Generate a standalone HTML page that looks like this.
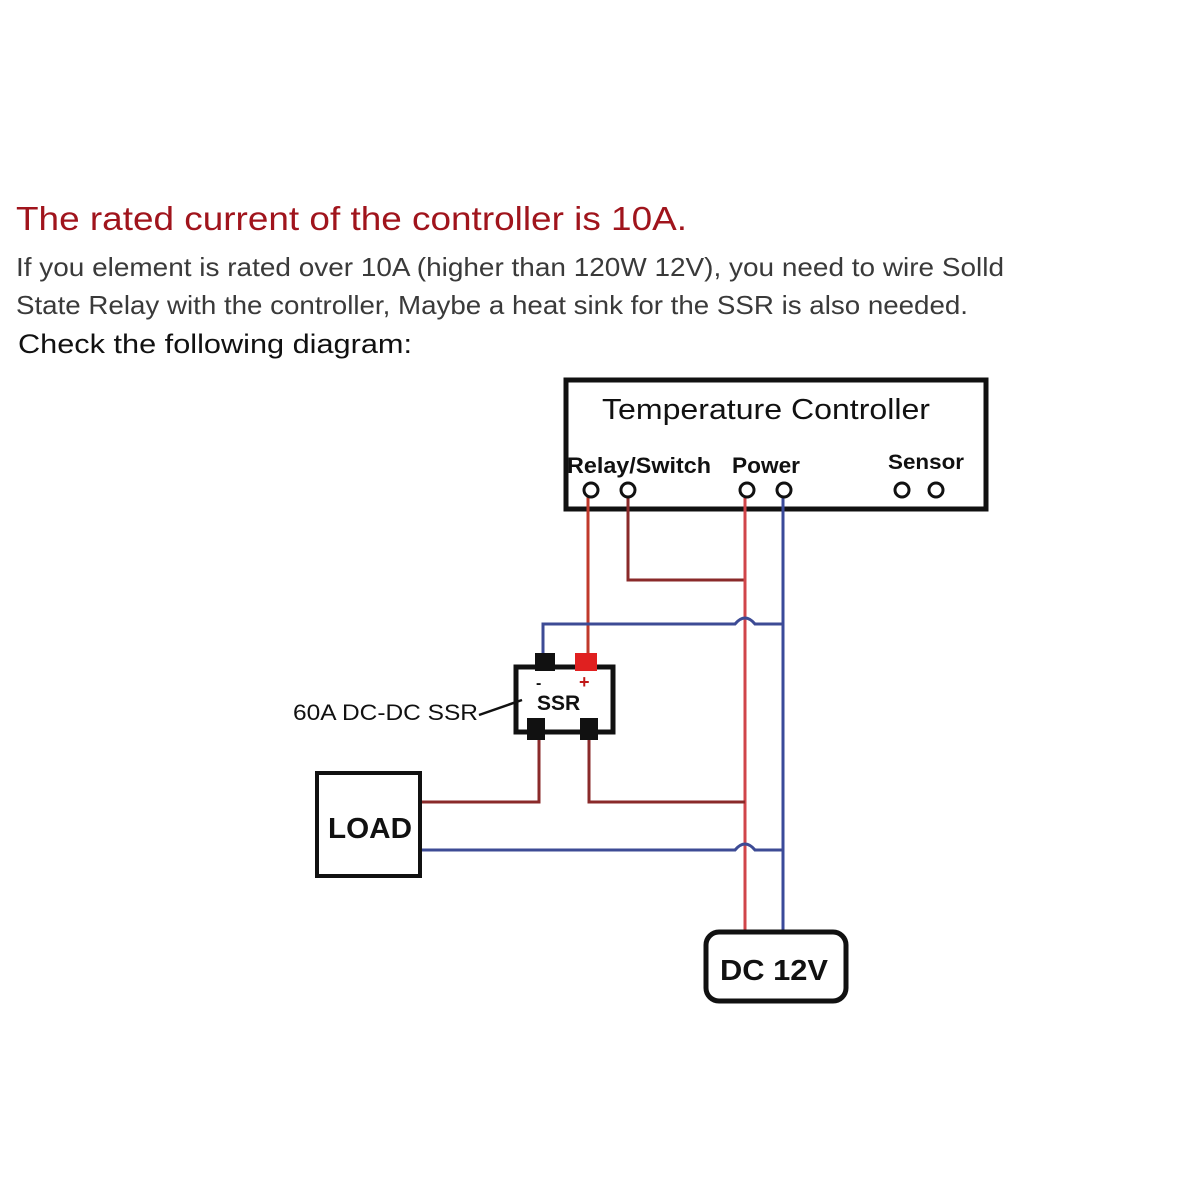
<!DOCTYPE html>
<html><head><meta charset="utf-8"><style>
html,body{margin:0;padding:0;background:#fff;}
svg{display:block;}
</style></head><body>
<svg width="1200" height="1200" viewBox="0 0 1200 1200" xmlns="http://www.w3.org/2000/svg">
<rect width="1200" height="1200" fill="#fff"/>
<g font-family="'Liberation Sans', sans-serif">
<text x="16" y="230" font-size="33" fill="#a0141c" textLength="671" lengthAdjust="spacingAndGlyphs">The rated current of the controller is 10A.</text>
<text x="16" y="276" font-size="26" fill="#3a3a3a" textLength="988" lengthAdjust="spacingAndGlyphs">If you element is rated over 10A (higher than 120W 12V), you need to wire Solld</text>
<text x="16" y="314" font-size="26" fill="#3a3a3a" textLength="952" lengthAdjust="spacingAndGlyphs">State Relay with the controller, Maybe a heat sink for the SSR is also needed.</text>
<text x="18" y="353" font-size="27" fill="#111" textLength="394" lengthAdjust="spacingAndGlyphs">Check the following diagram:</text>
</g>
<!-- controller box -->
<rect x="566" y="380" width="420" height="129" fill="none" stroke="#111" stroke-width="5"/>
<g font-family="'Liberation Sans', sans-serif" fill="#111">
<text x="602" y="419" font-size="29" textLength="328" lengthAdjust="spacingAndGlyphs">Temperature Controller</text>
<text x="567" y="473" font-size="22" font-weight="bold" textLength="144" lengthAdjust="spacingAndGlyphs">Relay/Switch</text>
<text x="732" y="473" font-size="22" font-weight="bold" textLength="68" lengthAdjust="spacingAndGlyphs">Power</text>
<text x="888" y="469" font-size="21" font-weight="bold" textLength="76" lengthAdjust="spacingAndGlyphs">Sensor</text>
<text x="293" y="720" font-size="22" textLength="185" lengthAdjust="spacingAndGlyphs">60A DC-DC SSR</text>
</g>
<!-- wires -->
<g fill="none" stroke-width="3">
<path d="M628 496 V580 H745" stroke="#8a2a2a"/>
<path d="M588 496 V658" stroke="#c0392b"/>
<path d="M745 496 V930" stroke="#d0454a"/>
<path d="M783 496 V930" stroke="#3a4a9a"/>
<path d="M543 656 V624 H735 Q745 612 755 624 H783" stroke="#3d4b95"/>
<path d="M421 802 H539 V740" stroke="#8a2a2a"/>
<path d="M589 740 V802 H745" stroke="#8a2a2a"/>
<path d="M421 850 H735 Q745 838 755 850 H783" stroke="#3d4b95"/>
</g>
<!-- terminals -->
<g fill="#fff" stroke="#111" stroke-width="3">
<circle cx="591" cy="490" r="7"/><circle cx="628" cy="490" r="7"/>
<circle cx="747" cy="490" r="7"/><circle cx="784" cy="490" r="7"/>
<circle cx="902" cy="490" r="7"/><circle cx="936" cy="490" r="7"/>
</g>
<!-- SSR -->
<rect x="516" y="667" width="97" height="65" fill="#fff" stroke="#111" stroke-width="5"/>
<rect x="535" y="653" width="20" height="18" fill="#111"/>
<rect x="575" y="653" width="22" height="18" fill="#e02020"/>
<rect x="527" y="718" width="18" height="22" fill="#111"/>
<rect x="580" y="718" width="18" height="22" fill="#111"/>
<text x="536" y="688" font-family="'Liberation Sans', sans-serif" font-size="16" font-weight="bold" fill="#111">-</text>
<text x="579" y="688" font-family="'Liberation Sans', sans-serif" font-size="18" font-weight="bold" fill="#c01818">+</text>
<text x="537" y="710" font-family="'Liberation Sans', sans-serif" font-size="21" font-weight="bold" fill="#111">SSR</text>
<path d="M479 715 L522 700" stroke="#111" stroke-width="2.5"/>
<!-- LOAD -->
<rect x="317" y="773" width="103" height="103" fill="#fff" stroke="#111" stroke-width="4"/>
<text x="328" y="838" font-family="'Liberation Sans', sans-serif" font-size="29" font-weight="bold" fill="#111" textLength="84" lengthAdjust="spacingAndGlyphs">LOAD</text>
<!-- DC 12V -->
<rect x="706" y="932" width="140" height="69" rx="13" fill="#fff" stroke="#111" stroke-width="5"/>
<text x="720" y="980" font-family="'Liberation Sans', sans-serif" font-size="29" font-weight="bold" fill="#111" textLength="108" lengthAdjust="spacingAndGlyphs">DC 12V</text>
</svg>
</body></html>
